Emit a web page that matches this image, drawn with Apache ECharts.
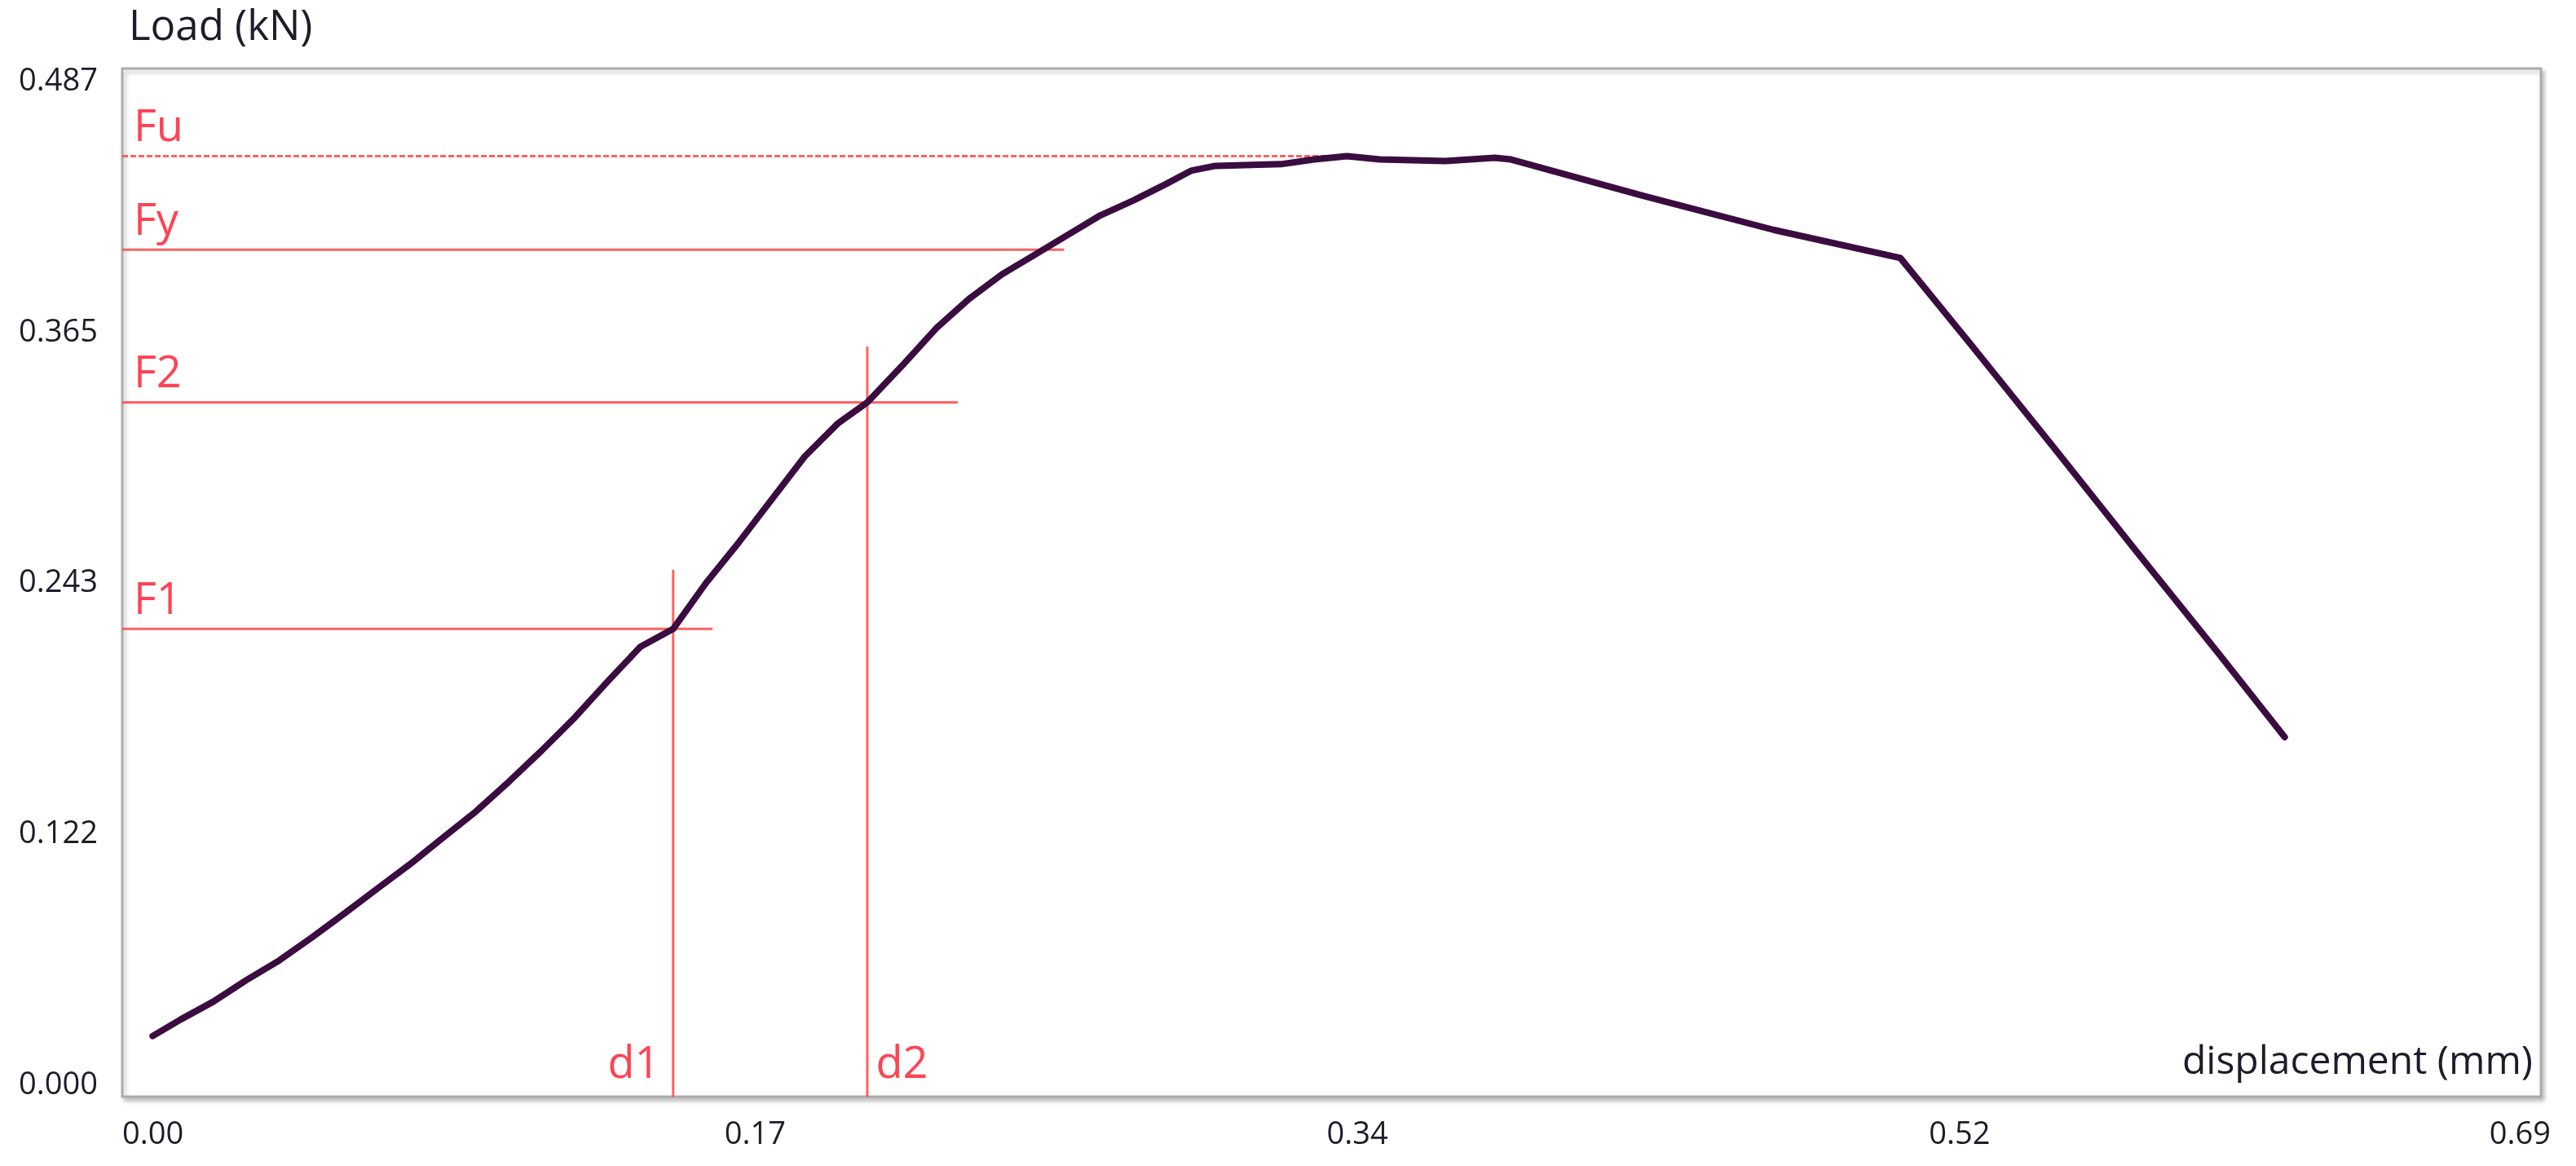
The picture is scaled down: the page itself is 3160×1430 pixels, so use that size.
<!DOCTYPE html>
<html>
<head>
<meta charset="utf-8">
<script src="https://cdn.jsdelivr.net/npm/echarts@6/dist/echarts.min.js"></script>
<style>
html,body{margin:0;padding:0;background:#fff;}
#chart{width:3160px;height:1430px;}
</style>
</head>
<body>
<div id="chart"></div>
<script>
// ---- data ----
const displacement = [0.0087,0.0167,0.0261,0.0355,0.0449,0.0543,0.0638,0.0732,0.0826,0.0920,
  0.1014,0.1108,0.1202,0.1296,0.1390,0.1484,0.1578,0.1672,0.1767,0.1861,0.1955,0.2049,0.2134,
  0.2237,0.2331,0.2425,0.2520,0.2614,0.2708,0.2802,0.2896,0.2990,0.3061,0.3131,0.3319,0.3414,
  0.3508,0.3602,0.3790,0.3931,0.3978,0.4354,0.4731,0.5093,0.5296,0.5531,0.5766,0.6001,0.6194];
const load = [0.0239,0.0319,0.0406,0.0510,0.0605,0.0717,0.0836,0.0956,0.1075,0.1203,
  0.1330,0.1474,0.1625,0.1784,0.1959,0.2127,0.2214,0.2437,0.2636,0.2844,0.3051,0.3210,0.3313,
  0.3497,0.3672,0.3815,0.3935,0.4030,0.4126,0.4221,0.4293,0.4373,0.4437,0.4461,0.4469,0.4492,
  0.4508,0.4492,0.4484,0.4500,0.4492,0.4317,0.4150,0.4014,0.3592,0.3098,0.2597,0.2103,0.1689];

const xTickLabels = ['0.00','0.17','0.34','0.52','0.69'];
const yTickLabels = ['0.000','0.122','0.243','0.365','0.487'];
const xMax = 0.69, xInterval = 0.1725;
const yMax = 0.487, yInterval = 0.12175;

const forceNames = ['Fu','Fy','F2','F1'];
const forceLoads = [0.4508,0.4054,0.3313,0.2214];
const forceLineEnds = [0.355,0.2698,0.2393,0.1691];

const dispNames = ['d1','d2'];
const dispValues = [0.1578,0.2134];
const dispLineTops = [0.2501,0.3584];
const dispLineBottom = -0.0056;

// ---- styles ----
const FONT = "'Open Sans', 'Noto Sans', sans-serif";
const RED_TEXT = '#ff1428';
const RED_LINE = 'rgba(255,70,70,0.85)';
const CURVE = '#3a0c40';
const TXT = '#1c1c2a';

const chart = echarts.init(document.getElementById('chart'));

const series = [];
series.push({
  type:'line', xAxisIndex:1, yAxisIndex:1, z:4,
  data: displacement.map((d,i)=>[d, load[i]]),
  symbol:'none', silent:true,
  lineStyle:{color:CURVE, width:8, join:'round', cap:'round'}
});
forceNames.forEach((n,i)=>{
  series.push({
    type:'line', xAxisIndex:1, yAxisIndex:1, z:3, silent:true, symbol:'none', clip:false,
    data:[[0, forceLoads[i]],[forceLineEnds[i], forceLoads[i]]],
    lineStyle:{color:RED_LINE, width:3, type: n==='Fu' ? [7,3] : 'solid'}
  });
});
dispNames.forEach((n,i)=>{
  series.push({
    type:'line', xAxisIndex:1, yAxisIndex:1, z:3, silent:true, symbol:'none', clip:false,
    data:[[dispValues[i], dispLineBottom],[dispValues[i], dispLineTops[i]]],
    lineStyle:{color:RED_LINE, width:3}
  });
});
const labelItems = [];
forceNames.forEach((n,i)=>{
  labelItems.push({value:[0, forceLoads[i]], label:{formatter:n, position:'top', align:'left', offset:[14,0], distance:6}});
});
dispNames.forEach((n,i)=>{
  labelItems.push({value:[dispValues[i], 0], label: i===0
    ? {formatter:n, position:'left', distance:16, offset:[0,-24]}
    : {formatter:n, position:'right', distance:10, offset:[0,-24]}});
});
series.push({
  type:'scatter', xAxisIndex:1, yAxisIndex:1, z:5, silent:true, clip:false,
  symbolSize:1, itemStyle:{color:'rgba(0,0,0,0)'},
  label:{show:true, color:RED_TEXT, fontSize:54, fontFamily:FONT},
  data:labelItems
});

chart.setOption({
  backgroundColor:'#ffffff',
  animation:false,
  grid:[
    {left:150, top:84, width:2967, height:1261, show:true, backgroundColor:'#ffffff',
     borderColor:'#ababab', borderWidth:3,
     shadowColor:'rgba(0,0,0,0.22)', shadowBlur:5, shadowOffsetX:3, shadowOffsetY:4},
    {left:150, right:3160-3105, top:100, bottom:1430-1331}
  ],
  xAxis:[
    {gridIndex:0, type:'value', min:0, max:1, show:false},
    {gridIndex:1, type:'value', min:0, max:xMax, interval:xInterval,
     name:'displacement (mm)', nameLocation:'end', nameGap:2,
     nameTextStyle:{fontFamily:FONT, fontSize:48, color:TXT, align:'right', verticalAlign:'bottom', padding:[0,0,4,0]},
     axisLine:{show:false}, axisTick:{show:false}, splitLine:{show:false},
     axisLabel:{fontFamily:FONT, fontSize:38, color:TXT, margin:42, align:'left', alignMaxLabel:'right',
       formatter:(v)=>xTickLabels[Math.round(v/xInterval)], padding:[0,-24,0,0]}}
  ],
  yAxis:[
    {gridIndex:0, type:'value', min:0, max:1, show:false},
    {gridIndex:1, type:'value', min:0, max:yMax, interval:yInterval,
     name:'Load (kN)', nameLocation:'end', nameGap:40,
     nameTextStyle:{fontFamily:FONT, fontSize:51, color:TXT, align:'left', padding:[0,0,0,8]},
     axisLine:{show:false}, axisTick:{show:false}, splitLine:{show:false},
     axisLabel:{fontFamily:FONT, fontSize:38, color:TXT, margin:30,
       formatter:(v)=>yTickLabels[Math.round(v/yInterval)]}}
  ],
  series:series
});
</script>
</body>
</html>
